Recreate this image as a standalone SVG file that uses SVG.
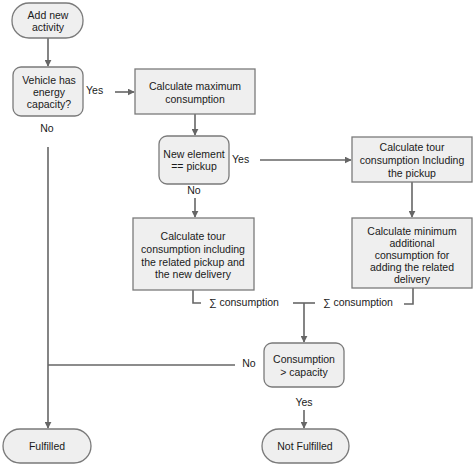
<svg xmlns="http://www.w3.org/2000/svg" width="474" height="474" viewBox="0 0 474 474">
<style>
.box{fill:#efefef;stroke:#7a7a7a;stroke-width:1.3}
.t{font-family:"Liberation Sans",Arial,sans-serif;font-size:10.5px;fill:#1a1a1a;text-anchor:middle;dominant-baseline:central}
.l{font-family:"Liberation Sans",Arial,sans-serif;font-size:10.5px;fill:#1a1a1a;dominant-baseline:central}
.c{fill:none;stroke:#666;stroke-width:1.6}
.a{marker-end:url(#ah)}
</style>
<defs>
<marker id="ah" viewBox="0 0 10 10" refX="9" refY="5" markerWidth="7" markerHeight="7" orient="auto" markerUnits="userSpaceOnUse">
<path d="M0,0 L10,5 L0,10 z" fill="#666"/>
</marker>
</defs>
<rect width="474" height="474" fill="#fff"/>
<g id="connectors">
<path class="c a" d="M48,38 V66"/>
<path class="c a" d="M115,92 H134"/>
<path class="c a" d="M195,114 V135"/>
<path class="c a" d="M260,160 H351"/>
<path class="c a" d="M195,198 V217"/>
<path class="c a" d="M412,182 V217"/>
<path class="c" d="M193,290 V303 H201"/>
<path class="c" d="M413,288 V304 H404"/>
<path class="c" d="M293,303 H315"/>
<path class="c a" d="M304,303 V342"/>
<path class="c a" d="M48,147 V428"/>
<path class="c" d="M235,365 H48"/>
<path class="c a" d="M304,410 V428"/>
</g>
<g id="n-add"><rect class="box" x="12" y="3" width="71" height="35" rx="17"/><text class="t" x="48" y="15">Add new</text><text class="t" x="48" y="27">activity</text></g>
<g id="n-vehicle"><rect class="box" x="13" y="67" width="70" height="49" rx="8"/><text class="t" x="49" y="80">Vehicle has</text><text class="t" x="49" y="92">energy</text><text class="t" x="49" y="104">capacity?</text></g>
<text class="l" x="86" y="90">Yes</text>
<text class="t" x="47" y="128">No</text>
<g id="n-max"><rect class="box" x="135" y="69" width="120" height="45"/><text class="t" x="195" y="86">Calculate maximum</text><text class="t" x="195" y="99">consumption</text></g>
<g id="n-newel"><rect class="box" x="159" y="136" width="70" height="48" rx="8"/><text class="t" x="194" y="154">New element</text><text class="t" x="194" y="166">== pickup</text></g>
<text class="l" x="232" y="159">Yes</text>
<text class="t" x="194" y="190">No</text>
<g id="n-tourpickup"><rect class="box" x="352" y="137" width="120" height="45"/><text class="t" x="412" y="147">Calculate tour</text><text class="t" x="412" y="160">consumption Including</text><text class="t" x="412" y="173">the pickup</text></g>
<g id="n-mindel"><rect class="box" x="352" y="218" width="120" height="70"/><text class="t" x="412" y="231">Calculate minimum</text><text class="t" x="412" y="243">additional</text><text class="t" x="412" y="255">consumption for</text><text class="t" x="412" y="267">adding the related</text><text class="t" x="412" y="279">delivery</text></g>
<g id="n-tourdel"><rect class="box" x="133" y="218" width="121" height="72"/><text class="t" x="193" y="236">Calculate tour</text><text class="t" x="193" y="249">consumption including</text><text class="t" x="193" y="262">the related pickup and</text><text class="t" x="193" y="274">the new delivery</text></g>
<text class="l" x="209" y="302">∑ consumption</text>
<text class="l" x="323" y="302">∑ consumption</text>
<g id="n-cons"><rect class="box" x="264" y="343" width="80" height="44" rx="8"/><text class="t" x="304" y="359">Consumption</text><text class="t" x="304" y="372">&gt; capacity</text></g>
<text class="t" x="249" y="363">No</text>
<text class="t" x="304" y="402">Yes</text>
<g id="n-fulfilled"><rect class="box" x="3" y="429" width="88" height="34" rx="17"/><text class="t" x="47" y="446">Fulfilled</text></g>
<g id="n-notfulfilled"><rect class="box" x="262" y="429" width="87" height="34" rx="17"/><text class="t" x="305" y="446">Not Fulfilled</text></g>
</svg>
